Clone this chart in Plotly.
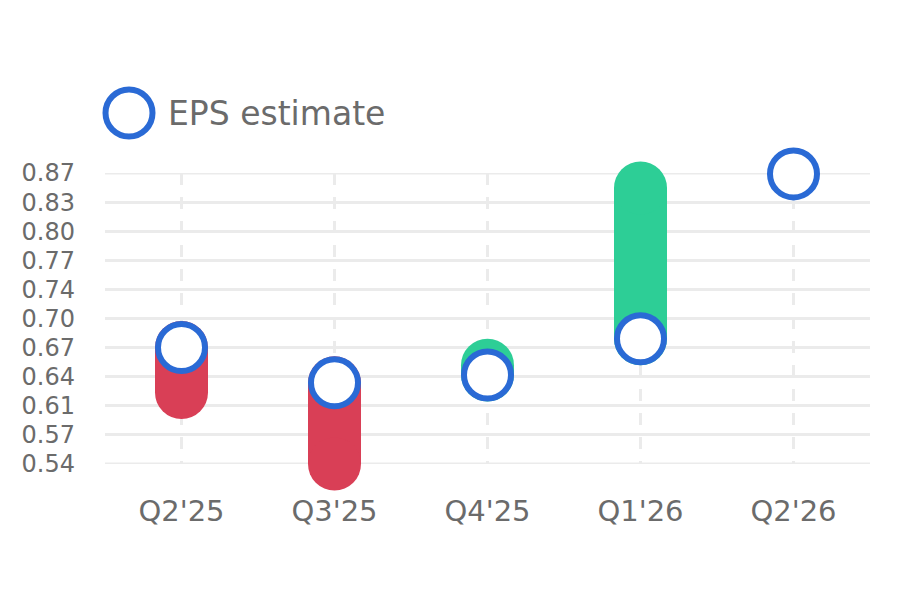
import plotly.graph_objects as go
import numpy as np

# ---- data ----
quarters = ["Q2'25", "Q3'25", "Q4'25", "Q1'26", "Q2'26"]
eps_estimate = [0.672, 0.632, 0.641, 0.682, 0.869]
eps_actual = [0.621, 0.54, 0.652, 0.853, None]
y_tick_labels = ["0.54", "0.57", "0.61", "0.64", "0.67", "0.70", "0.74", "0.77", "0.80", "0.83", "0.87"]
y_min, y_max = 0.54, 0.87

RED = "#d93f56"
GREEN = "#2dce96"
BLUE = "#2a6ad5"
TEXT = "#6b6b6b"
GRID = "#ebebeb"
FONT = "DejaVu Sans"

fig = go.Figure()

# estimate -> actual bars (rounded caps)
for q, est, act in zip(quarters, eps_estimate, eps_actual):
    if act is None:
        continue
    col = GREEN if act >= est else RED
    fig.add_trace(go.Scatter(
        x=[q, q], y=[est, act], mode="lines+markers",
        line=dict(color=col, width=53),
        marker=dict(color=col, size=53, line=dict(width=0)),
        cliponaxis=False, showlegend=False, hoverinfo="skip",
    ))

# estimate circles
fig.add_trace(go.Scatter(
    x=quarters, y=eps_estimate, mode="markers", name="EPS estimate",
    marker=dict(color="white", size=47, line=dict(color=BLUE, width=6)),
    cliponaxis=False, showlegend=False,
))

tickvals = list(np.linspace(y_min, y_max, len(y_tick_labels)))

# edge gridlines (plotly omits grid lines lying on the plot-area border)
edge_lines = [
    dict(type="line", xref="paper", yref="y", x0=0, x1=1, y0=v, y1=v,
         line=dict(color=GRID, width=3), layer="below")
    for v in (y_min, y_max)
]

fig.update_layout(
    width=900, height=600,
    margin=dict(l=105, r=30, t=173, b=136),
    paper_bgcolor="white", plot_bgcolor="white",
    font=dict(family=FONT, color=TEXT),
    xaxis=dict(
        type="category", categoryorder="array", categoryarray=quarters,
        range=[-0.5, len(quarters) - 0.5],
        showgrid=True, gridcolor=GRID, gridwidth=3, griddash="12px,12px",
        showline=False, zeroline=False, ticks="",
        tickfont=dict(size=29, color=TEXT, family=FONT),
        ticklabelstandoff=27,
    ),
    yaxis=dict(
        range=[y_min, y_max], tickvals=tickvals, ticktext=y_tick_labels,
        showgrid=True, gridcolor=GRID, gridwidth=3,
        showline=False, zeroline=False, ticks="",
        tickfont=dict(size=24, color=TEXT, family=FONT),
        ticklabelstandoff=29,
    ),
    showlegend=False,
    shapes=edge_lines + [dict(
        type="circle", xref="paper", yref="paper",
        xsizemode="pixel", ysizemode="pixel",
        xanchor=(129 - 105) / 765, yanchor=(464 - 113) / 291,
        x0=-23.5, x1=23.5, y0=-23.5, y1=23.5,
        line=dict(color=BLUE, width=6), fillcolor="white", layer="above",
    )],
    annotations=[dict(
        text="EPS estimate", xref="paper", yref="paper",
        x=(166 - 105) / 765, y=(464 - 113) / 291,
        xanchor="left", yanchor="middle", showarrow=False,
        font=dict(size=33, color=TEXT, family=FONT),
    )],
)

fig.write_html("out.html")
